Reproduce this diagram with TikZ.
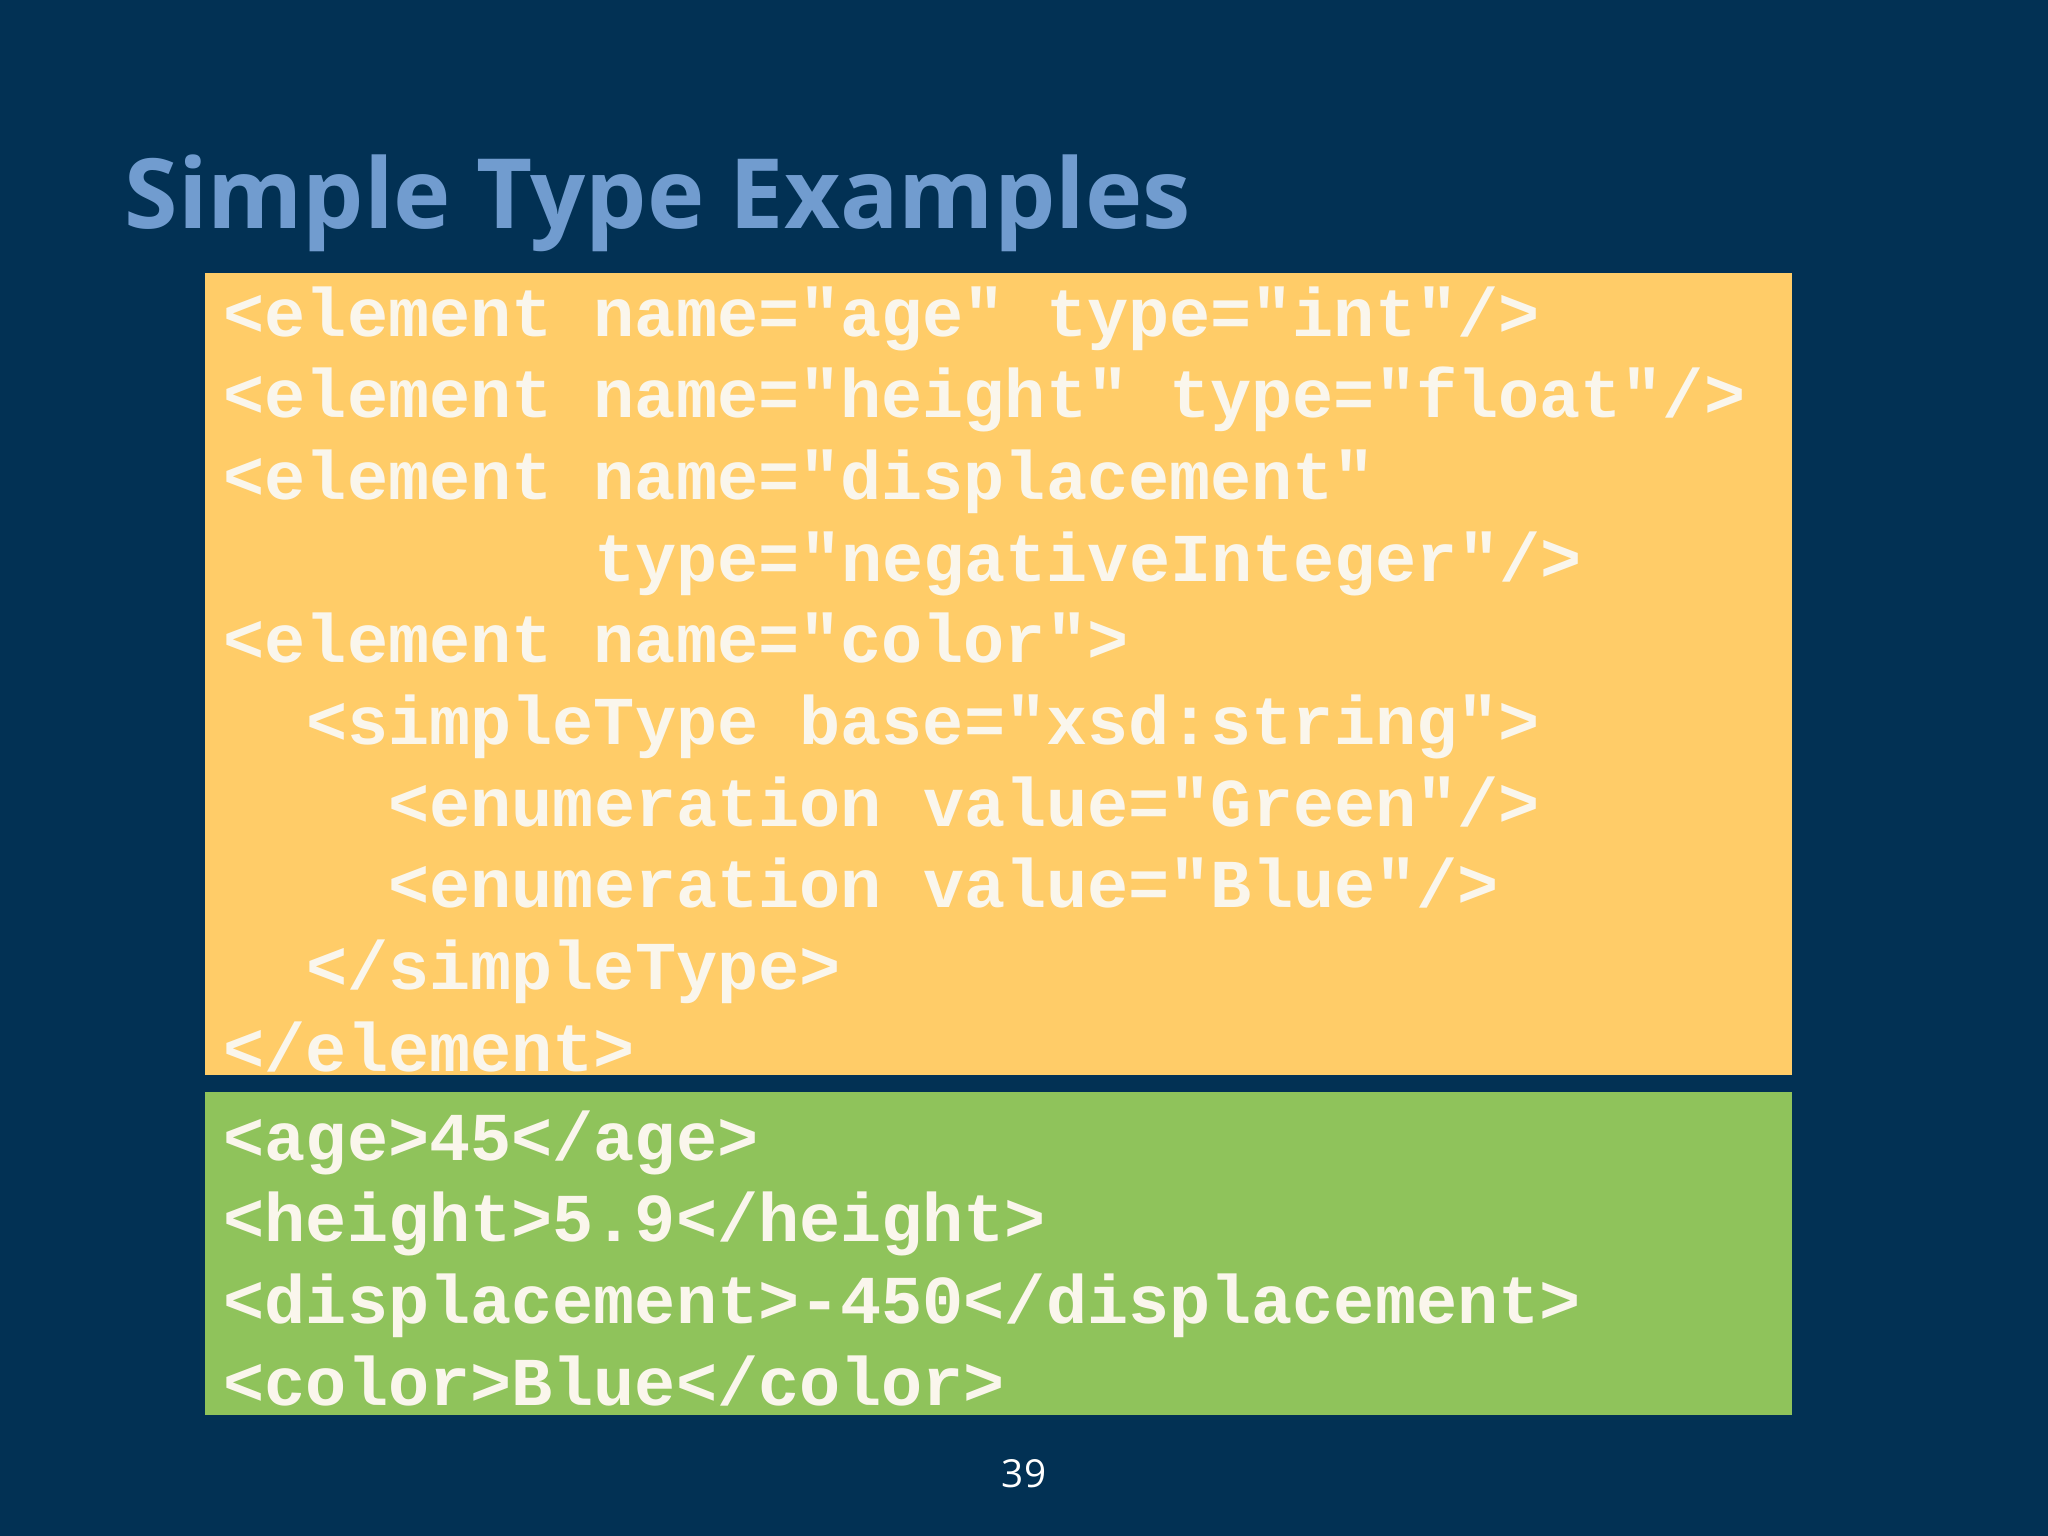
\documentclass[tikz,border=0pt]{standalone}
\usepackage{fontspec}
\setmainfont{Open Sans}
\setmonofont{Liberation Mono}
\definecolor{slidebg}{RGB}{2,49,84}
\definecolor{titleblue}{RGB}{113,156,207}
\definecolor{schemafill}{RGB}{255,204,104}
\definecolor{instancefill}{RGB}{143,195,91}
\definecolor{codewhite}{RGB}{250,246,236}
\tikzset{
  codeline/.style={anchor=base west, inner sep=0pt, text=codewhite,
    font=\ttfamily\bfseries\fontsize{19.5}{23}\selectfont},
  slidetitle/.style={anchor=base west, inner sep=0pt, text=titleblue,
    font=\bfseries\fontsize{27.6}{33}\selectfont},
}
\begin{document}
\begin{tikzpicture}
        \def\codex{2.23}
        \def\cw{0.412}
        \fill[slidebg] (0,0) rectangle (20.48,15.36);
        \node[slidetitle] (title) at (1.24,13.07) {Simple Type Examples};
        % schema
        \fill[schemafill] (2.05,4.61) rectangle (17.92,12.63);
        \node[codeline] (s1) at (\codex,11.995) {<element name="age" type="int"/>};
        \node[codeline] (s2) at (\codex,11.18) {<element name="height" type="float"/>};
        \node[codeline] (s3) at (\codex,10.36) {<element name="displacement"};
        \node[codeline] (s4) at ({\codex+9*\cw},9.545) {type="negativeInteger"/>};
        \node[codeline] (s5) at (\codex,8.73) {<element name="color">};
        \node[codeline] (s6) at ({\codex+2*\cw},7.91) {<simpleType base="xsd:string">};
        \node[codeline] (s7) at ({\codex+4*\cw},7.095) {<enumeration value="Green"/>};
        \node[codeline] (s8) at ({\codex+4*\cw},6.28) {<enumeration value="Blue"/>};
        \node[codeline] (s9) at ({\codex+2*\cw},5.46) {</simpleType>};
        \node[codeline] (s10) at (\codex,4.645) {</element>};
        % instance
        \fill[instancefill] (2.05,1.21) rectangle (17.92,4.44);
        \node[codeline] (d1) at (\codex,3.755) {<age>45</age>};
        \node[codeline] (d2) at (\codex,2.94) {<height>5.9</height>};
        \node[codeline] (d3) at (\codex,2.12) {<displacement>-450</displacement>};
        \node[codeline] (d4) at (\codex,1.305) {<color>Blue</color>};
        \node[anchor=base, inner sep=0pt, text=white, font=\fontsize{11}{13}\selectfont] (page) at (10.24,0.48) {39};
      \end{tikzpicture}
\end{document}
